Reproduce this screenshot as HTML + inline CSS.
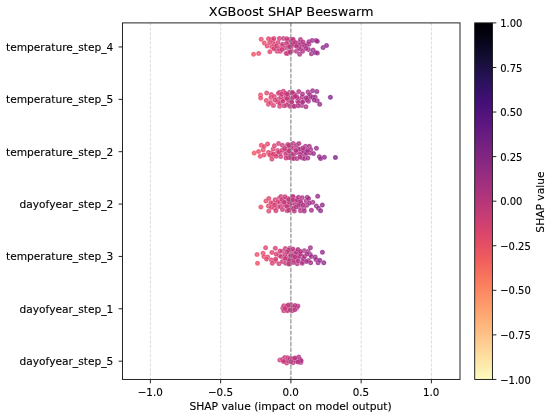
<!DOCTYPE html>
<html><head><meta charset="utf-8"><title>XGBoost SHAP Beeswarm</title>
<style>html,body{margin:0;padding:0;background:#fff;overflow:hidden}svg{display:block}text{stroke:#000;stroke-width:0.12px}.d{fill-opacity:.72;stroke:#fff;stroke-width:.36;stroke-opacity:.75}.e{fill:none;stroke-width:1;stroke-opacity:.5}</style></head>
<body>
<svg width="550" height="418" viewBox="0 0 550 418" font-family="'DejaVu Sans', 'Liberation Sans', sans-serif" fill="#000">
<rect width="550" height="418" fill="#fff"/>
<defs><linearGradient id="cb" x1="0" y1="0" x2="0" y2="1"><stop offset="0.0000" stop-color="#000004"/><stop offset="0.0312" stop-color="#03030f"/><stop offset="0.0625" stop-color="#090720"/><stop offset="0.0938" stop-color="#120d31"/><stop offset="0.1250" stop-color="#1c1044"/><stop offset="0.1562" stop-color="#271258"/><stop offset="0.1875" stop-color="#341069"/><stop offset="0.2188" stop-color="#420f75"/><stop offset="0.2500" stop-color="#4f127b"/><stop offset="0.2812" stop-color="#5c167f"/><stop offset="0.3125" stop-color="#681c81"/><stop offset="0.3438" stop-color="#752181"/><stop offset="0.3750" stop-color="#812581"/><stop offset="0.4062" stop-color="#8e2a81"/><stop offset="0.4375" stop-color="#9b2e7f"/><stop offset="0.4688" stop-color="#a8327d"/><stop offset="0.5000" stop-color="#b5367a"/><stop offset="0.5312" stop-color="#c23b75"/><stop offset="0.5625" stop-color="#cf4070"/><stop offset="0.5938" stop-color="#db476a"/><stop offset="0.6250" stop-color="#e55064"/><stop offset="0.6562" stop-color="#ee5b5e"/><stop offset="0.6875" stop-color="#f4695c"/><stop offset="0.7188" stop-color="#f9785d"/><stop offset="0.7500" stop-color="#fb8761"/><stop offset="0.7812" stop-color="#fd9668"/><stop offset="0.8125" stop-color="#fea571"/><stop offset="0.8438" stop-color="#feb47b"/><stop offset="0.8750" stop-color="#fec287"/><stop offset="0.9062" stop-color="#fed194"/><stop offset="0.9375" stop-color="#fde0a1"/><stop offset="0.9688" stop-color="#fceeb0"/><stop offset="1.0000" stop-color="#fcfdbf"/></linearGradient></defs>
<line x1="150.40" y1="22.9" x2="150.40" y2="379.45" stroke="#b0b0b0" stroke-opacity="0.5" stroke-width="0.86" stroke-dasharray="3.2 1.4"/>
<line x1="220.65" y1="22.9" x2="220.65" y2="379.45" stroke="#b0b0b0" stroke-opacity="0.5" stroke-width="0.86" stroke-dasharray="3.2 1.4"/>
<line x1="361.15" y1="22.9" x2="361.15" y2="379.45" stroke="#b0b0b0" stroke-opacity="0.5" stroke-width="0.86" stroke-dasharray="3.2 1.4"/>
<line x1="431.40" y1="22.9" x2="431.40" y2="379.45" stroke="#b0b0b0" stroke-opacity="0.5" stroke-width="0.86" stroke-dasharray="3.2 1.4"/>
<line x1="290.90" y1="22.9" x2="290.90" y2="379.45" stroke="#b0b0b0" stroke-opacity="0.5" stroke-width="0.86" stroke-dasharray="3.2 1.4"/>
<g><circle class="d" cx="308.9" cy="44.2" r="2.5" fill="#a12882"/><circle class="e" cx="308.9" cy="44.2" r="1.8" stroke="#a12882"/><circle class="d" cx="281.6" cy="45.9" r="2.5" fill="#cc3474"/><circle class="e" cx="281.6" cy="45.9" r="1.8" stroke="#cc3474"/><circle class="d" cx="290.3" cy="39.6" r="2.5" fill="#be307a"/><circle class="e" cx="290.3" cy="39.6" r="1.8" stroke="#be307a"/><circle class="d" cx="301.5" cy="48.1" r="2.5" fill="#ad2b7f"/><circle class="e" cx="301.5" cy="48.1" r="1.8" stroke="#ad2b7f"/><circle class="d" cx="295.9" cy="45.0" r="2.5" fill="#b52d7d"/><circle class="e" cx="295.9" cy="45.0" r="1.8" stroke="#b52d7d"/><circle class="d" cx="287.6" cy="40.7" r="2.5" fill="#c33177"/><circle class="e" cx="287.6" cy="40.7" r="1.8" stroke="#c33177"/><circle class="d" cx="293.3" cy="40.4" r="2.5" fill="#b92e7c"/><circle class="e" cx="293.3" cy="40.4" r="1.8" stroke="#b92e7c"/><circle class="d" cx="286.1" cy="53.2" r="2.5" fill="#c53277"/><circle class="e" cx="286.1" cy="53.2" r="1.8" stroke="#c53277"/><circle class="d" cx="301.9" cy="44.4" r="2.5" fill="#ab2a80"/><circle class="e" cx="301.9" cy="44.4" r="1.8" stroke="#ab2a80"/><circle class="d" cx="277.1" cy="51.2" r="2.5" fill="#d23770"/><circle class="e" cx="277.1" cy="51.2" r="1.8" stroke="#d23770"/><circle class="d" cx="299.6" cy="45.3" r="2.5" fill="#b02c7e"/><circle class="e" cx="299.6" cy="45.3" r="1.8" stroke="#b02c7e"/><circle class="d" cx="271.5" cy="39.4" r="2.5" fill="#da3a6c"/><circle class="e" cx="271.5" cy="39.4" r="1.8" stroke="#da3a6c"/><circle class="d" cx="291.4" cy="46.8" r="2.5" fill="#bc2f7a"/><circle class="e" cx="291.4" cy="46.8" r="1.8" stroke="#bc2f7a"/><circle class="d" cx="288.9" cy="44.8" r="2.5" fill="#c03079"/><circle class="e" cx="288.9" cy="44.8" r="1.8" stroke="#c03079"/><circle class="d" cx="274.5" cy="47.7" r="2.5" fill="#d5386f"/><circle class="e" cx="274.5" cy="47.7" r="1.8" stroke="#d5386f"/><circle class="d" cx="289.3" cy="50.2" r="2.5" fill="#c03079"/><circle class="e" cx="289.3" cy="50.2" r="1.8" stroke="#c03079"/><circle class="d" cx="306.8" cy="44.9" r="2.5" fill="#a42982"/><circle class="e" cx="306.8" cy="44.9" r="1.8" stroke="#a42982"/><circle class="d" cx="291.5" cy="51.1" r="2.5" fill="#bc2f7a"/><circle class="e" cx="291.5" cy="51.1" r="1.8" stroke="#bc2f7a"/><circle class="d" cx="253.6" cy="54.2" r="2.5" fill="#f14b5c"/><circle class="e" cx="253.6" cy="54.2" r="1.8" stroke="#f14b5c"/><circle class="d" cx="258.7" cy="53.4" r="2.5" fill="#ec4660"/><circle class="e" cx="258.7" cy="53.4" r="1.8" stroke="#ec4660"/><circle class="d" cx="261.2" cy="39.2" r="2.5" fill="#e94462"/><circle class="e" cx="261.2" cy="39.2" r="1.8" stroke="#e94462"/><circle class="d" cx="264.3" cy="43.0" r="2.5" fill="#e54065"/><circle class="e" cx="264.3" cy="43.0" r="1.8" stroke="#e54065"/><circle class="d" cx="267.1" cy="45.9" r="2.5" fill="#e03e68"/><circle class="e" cx="267.1" cy="45.9" r="1.8" stroke="#e03e68"/><circle class="d" cx="268.5" cy="38.8" r="2.5" fill="#df3d69"/><circle class="e" cx="268.5" cy="38.8" r="1.8" stroke="#df3d69"/><circle class="d" cx="269.9" cy="51.7" r="2.5" fill="#dd3c6a"/><circle class="e" cx="269.9" cy="51.7" r="1.8" stroke="#dd3c6a"/><circle class="d" cx="271.8" cy="46.7" r="2.5" fill="#da3a6c"/><circle class="e" cx="271.8" cy="46.7" r="1.8" stroke="#da3a6c"/><circle class="d" cx="273.1" cy="40.5" r="2.5" fill="#d9396d"/><circle class="e" cx="273.1" cy="40.5" r="1.8" stroke="#d9396d"/><circle class="d" cx="273.9" cy="38.4" r="2.5" fill="#d7396e"/><circle class="e" cx="273.9" cy="38.4" r="1.8" stroke="#d7396e"/><circle class="d" cx="274.3" cy="44.2" r="2.5" fill="#d7396e"/><circle class="e" cx="274.3" cy="44.2" r="1.8" stroke="#d7396e"/><circle class="d" cx="273.9" cy="48.8" r="2.5" fill="#d7396e"/><circle class="e" cx="273.9" cy="48.8" r="1.8" stroke="#d7396e"/><circle class="d" cx="278.1" cy="42.5" r="2.5" fill="#d13671"/><circle class="e" cx="278.1" cy="42.5" r="1.8" stroke="#d13671"/><circle class="d" cx="279.4" cy="38.4" r="2.5" fill="#cf3572"/><circle class="e" cx="279.4" cy="38.4" r="1.8" stroke="#cf3572"/><circle class="d" cx="280.2" cy="51.3" r="2.5" fill="#cd3573"/><circle class="e" cx="280.2" cy="51.3" r="1.8" stroke="#cd3573"/><circle class="d" cx="278.9" cy="48.8" r="2.5" fill="#cf3572"/><circle class="e" cx="278.9" cy="48.8" r="1.8" stroke="#cf3572"/><circle class="d" cx="282.7" cy="44.2" r="2.5" fill="#ca3374"/><circle class="e" cx="282.7" cy="44.2" r="1.8" stroke="#ca3374"/><circle class="d" cx="283.5" cy="38.4" r="2.5" fill="#c83375"/><circle class="e" cx="283.5" cy="38.4" r="1.8" stroke="#c83375"/><circle class="d" cx="284.8" cy="48.0" r="2.5" fill="#c63276"/><circle class="e" cx="284.8" cy="48.0" r="1.8" stroke="#c63276"/><circle class="d" cx="286.9" cy="38.8" r="2.5" fill="#c33177"/><circle class="e" cx="286.9" cy="38.8" r="1.8" stroke="#c33177"/><circle class="d" cx="286.5" cy="43.4" r="2.5" fill="#c53277"/><circle class="e" cx="286.5" cy="43.4" r="1.8" stroke="#c53277"/><circle class="d" cx="287.3" cy="53.4" r="2.5" fill="#c33177"/><circle class="e" cx="287.3" cy="53.4" r="1.8" stroke="#c33177"/><circle class="d" cx="288.6" cy="46.7" r="2.5" fill="#c13178"/><circle class="e" cx="288.6" cy="46.7" r="1.8" stroke="#c13178"/><circle class="d" cx="290.2" cy="51.7" r="2.5" fill="#be307a"/><circle class="e" cx="290.2" cy="51.7" r="1.8" stroke="#be307a"/><circle class="d" cx="291.5" cy="40.9" r="2.5" fill="#bc2f7a"/><circle class="e" cx="291.5" cy="40.9" r="1.8" stroke="#bc2f7a"/><circle class="d" cx="292.3" cy="45.0" r="2.5" fill="#bb2f7b"/><circle class="e" cx="292.3" cy="45.0" r="1.8" stroke="#bb2f7b"/><circle class="d" cx="293.0" cy="39.2" r="2.5" fill="#bb2f7b"/><circle class="e" cx="293.0" cy="39.2" r="1.8" stroke="#bb2f7b"/><circle class="d" cx="292.6" cy="43.8" r="2.5" fill="#bb2f7b"/><circle class="e" cx="292.6" cy="43.8" r="1.8" stroke="#bb2f7b"/><circle class="d" cx="289.7" cy="46.7" r="2.5" fill="#c03079"/><circle class="e" cx="289.7" cy="46.7" r="1.8" stroke="#c03079"/><circle class="d" cx="290.1" cy="52.2" r="2.5" fill="#be307a"/><circle class="e" cx="290.1" cy="52.2" r="1.8" stroke="#be307a"/><circle class="d" cx="296.4" cy="51.3" r="2.5" fill="#b42d7d"/><circle class="e" cx="296.4" cy="51.3" r="1.8" stroke="#b42d7d"/><circle class="d" cx="299.7" cy="54.2" r="2.5" fill="#af2b7f"/><circle class="e" cx="299.7" cy="54.2" r="1.8" stroke="#af2b7f"/><circle class="d" cx="298.9" cy="42.5" r="2.5" fill="#b02c7e"/><circle class="e" cx="298.9" cy="42.5" r="1.8" stroke="#b02c7e"/><circle class="d" cx="300.5" cy="39.6" r="2.5" fill="#af2b7f"/><circle class="e" cx="300.5" cy="39.6" r="1.8" stroke="#af2b7f"/><circle class="d" cx="299.3" cy="48.8" r="2.5" fill="#b02c7e"/><circle class="e" cx="299.3" cy="48.8" r="1.8" stroke="#b02c7e"/><circle class="d" cx="302.6" cy="51.3" r="2.5" fill="#ab2a80"/><circle class="e" cx="302.6" cy="51.3" r="1.8" stroke="#ab2a80"/><circle class="d" cx="304.7" cy="45.5" r="2.5" fill="#a82a81"/><circle class="e" cx="304.7" cy="45.5" r="1.8" stroke="#a82a81"/><circle class="d" cx="308.5" cy="49.6" r="2.5" fill="#a12882"/><circle class="e" cx="308.5" cy="49.6" r="1.8" stroke="#a12882"/><circle class="d" cx="308.9" cy="41.7" r="2.5" fill="#a12882"/><circle class="e" cx="308.9" cy="41.7" r="1.8" stroke="#a12882"/><circle class="d" cx="312.2" cy="40.5" r="2.5" fill="#9c2684"/><circle class="e" cx="312.2" cy="40.5" r="1.8" stroke="#9c2684"/><circle class="d" cx="316.0" cy="40.5" r="2.5" fill="#972584"/><circle class="e" cx="316.0" cy="40.5" r="1.8" stroke="#972584"/><circle class="d" cx="317.3" cy="41.3" r="2.5" fill="#942485"/><circle class="e" cx="317.3" cy="41.3" r="1.8" stroke="#942485"/><circle class="d" cx="311.4" cy="53.8" r="2.5" fill="#9e2783"/><circle class="e" cx="311.4" cy="53.8" r="1.8" stroke="#9e2783"/><circle class="d" cx="313.1" cy="50.1" r="2.5" fill="#9a2684"/><circle class="e" cx="313.1" cy="50.1" r="1.8" stroke="#9a2684"/><circle class="d" cx="315.2" cy="52.6" r="2.5" fill="#972584"/><circle class="e" cx="315.2" cy="52.6" r="1.8" stroke="#972584"/><circle class="d" cx="317.3" cy="53.0" r="2.5" fill="#942485"/><circle class="e" cx="317.3" cy="53.0" r="1.8" stroke="#942485"/><circle class="d" cx="323.1" cy="47.6" r="2.5" fill="#8b2286"/><circle class="e" cx="323.1" cy="47.6" r="1.8" stroke="#8b2286"/><circle class="d" cx="326.5" cy="45.5" r="2.5" fill="#862087"/><circle class="e" cx="326.5" cy="45.5" r="1.8" stroke="#862087"/><circle class="d" cx="295.2" cy="42.4" r="2.5" fill="#b72e7c"/><circle class="e" cx="295.2" cy="42.4" r="1.8" stroke="#b72e7c"/><circle class="d" cx="296.5" cy="46.2" r="2.5" fill="#b42d7d"/><circle class="e" cx="296.5" cy="46.2" r="1.8" stroke="#b42d7d"/><circle class="d" cx="269.8" cy="42.6" r="2.5" fill="#dd3c6a"/><circle class="e" cx="269.8" cy="42.6" r="1.8" stroke="#dd3c6a"/><circle class="d" cx="276.5" cy="46.0" r="2.5" fill="#d4376f"/><circle class="e" cx="276.5" cy="46.0" r="1.8" stroke="#d4376f"/><circle class="d" cx="282.0" cy="49.5" r="2.5" fill="#cc3474"/><circle class="e" cx="282.0" cy="49.5" r="1.8" stroke="#cc3474"/><circle class="d" cx="303.0" cy="42.0" r="2.5" fill="#aa2a80"/><circle class="e" cx="303.0" cy="42.0" r="1.8" stroke="#aa2a80"/><circle class="d" cx="306.0" cy="48.5" r="2.5" fill="#a62981"/><circle class="e" cx="306.0" cy="48.5" r="1.8" stroke="#a62981"/><circle class="d" cx="308.2" cy="98.1" r="2.5" fill="#a32882"/><circle class="e" cx="308.2" cy="98.1" r="1.8" stroke="#a32882"/><circle class="d" cx="289.5" cy="92.4" r="2.5" fill="#c03079"/><circle class="e" cx="289.5" cy="92.4" r="1.8" stroke="#c03079"/><circle class="d" cx="296.2" cy="95.5" r="2.5" fill="#b52d7d"/><circle class="e" cx="296.2" cy="95.5" r="1.8" stroke="#b52d7d"/><circle class="d" cx="288.3" cy="103.5" r="2.5" fill="#c13178"/><circle class="e" cx="288.3" cy="103.5" r="1.8" stroke="#c13178"/><circle class="d" cx="308.4" cy="101.2" r="2.5" fill="#a32882"/><circle class="e" cx="308.4" cy="101.2" r="1.8" stroke="#a32882"/><circle class="d" cx="297.7" cy="101.3" r="2.5" fill="#b22c7e"/><circle class="e" cx="297.7" cy="101.3" r="1.8" stroke="#b22c7e"/><circle class="d" cx="291.5" cy="98.5" r="2.5" fill="#bc2f7a"/><circle class="e" cx="291.5" cy="98.5" r="1.8" stroke="#bc2f7a"/><circle class="d" cx="284.2" cy="98.6" r="2.5" fill="#c83375"/><circle class="e" cx="284.2" cy="98.6" r="1.8" stroke="#c83375"/><circle class="d" cx="287.9" cy="97.1" r="2.5" fill="#c13178"/><circle class="e" cx="287.9" cy="97.1" r="1.8" stroke="#c13178"/><circle class="d" cx="282.1" cy="100.2" r="2.5" fill="#cc3474"/><circle class="e" cx="282.1" cy="100.2" r="1.8" stroke="#cc3474"/><circle class="d" cx="310.5" cy="97.2" r="2.5" fill="#9f2783"/><circle class="e" cx="310.5" cy="97.2" r="1.8" stroke="#9f2783"/><circle class="d" cx="288.4" cy="99.9" r="2.5" fill="#c13178"/><circle class="e" cx="288.4" cy="99.9" r="1.8" stroke="#c13178"/><circle class="d" cx="303.2" cy="100.9" r="2.5" fill="#aa2a80"/><circle class="e" cx="303.2" cy="100.9" r="1.8" stroke="#aa2a80"/><circle class="d" cx="278.0" cy="99.5" r="2.5" fill="#d13671"/><circle class="e" cx="278.0" cy="99.5" r="1.8" stroke="#d13671"/><circle class="d" cx="298.6" cy="99.3" r="2.5" fill="#b02c7e"/><circle class="e" cx="298.6" cy="99.3" r="1.8" stroke="#b02c7e"/><circle class="d" cx="279.8" cy="92.2" r="2.5" fill="#cf3572"/><circle class="e" cx="279.8" cy="92.2" r="1.8" stroke="#cf3572"/><circle class="d" cx="292.6" cy="94.0" r="2.5" fill="#bb2f7b"/><circle class="e" cx="292.6" cy="94.0" r="1.8" stroke="#bb2f7b"/><circle class="d" cx="285.8" cy="94.8" r="2.5" fill="#c53277"/><circle class="e" cx="285.8" cy="94.8" r="1.8" stroke="#c53277"/><circle class="d" cx="260.5" cy="95.0" r="2.5" fill="#e94462"/><circle class="e" cx="260.5" cy="95.0" r="1.8" stroke="#e94462"/><circle class="d" cx="260.7" cy="97.9" r="2.5" fill="#e94462"/><circle class="e" cx="260.7" cy="97.9" r="1.8" stroke="#e94462"/><circle class="d" cx="266.7" cy="92.9" r="2.5" fill="#e23f67"/><circle class="e" cx="266.7" cy="92.9" r="1.8" stroke="#e23f67"/><circle class="d" cx="266.3" cy="100.4" r="2.5" fill="#e23f67"/><circle class="e" cx="266.3" cy="100.4" r="1.8" stroke="#e23f67"/><circle class="d" cx="268.4" cy="104.2" r="2.5" fill="#df3d69"/><circle class="e" cx="268.4" cy="104.2" r="1.8" stroke="#df3d69"/><circle class="d" cx="270.5" cy="102.5" r="2.5" fill="#dc3b6b"/><circle class="e" cx="270.5" cy="102.5" r="1.8" stroke="#dc3b6b"/><circle class="d" cx="271.3" cy="94.5" r="2.5" fill="#da3a6c"/><circle class="e" cx="271.3" cy="94.5" r="1.8" stroke="#da3a6c"/><circle class="d" cx="270.9" cy="97.5" r="2.5" fill="#dc3b6b"/><circle class="e" cx="270.9" cy="97.5" r="1.8" stroke="#dc3b6b"/><circle class="d" cx="273.4" cy="105.4" r="2.5" fill="#d7396e"/><circle class="e" cx="273.4" cy="105.4" r="1.8" stroke="#d7396e"/><circle class="d" cx="274.2" cy="96.6" r="2.5" fill="#d7396e"/><circle class="e" cx="274.2" cy="96.6" r="1.8" stroke="#d7396e"/><circle class="d" cx="277.6" cy="102.1" r="2.5" fill="#d23770"/><circle class="e" cx="277.6" cy="102.1" r="1.8" stroke="#d23770"/><circle class="d" cx="278.4" cy="93.3" r="2.5" fill="#d13671"/><circle class="e" cx="278.4" cy="93.3" r="1.8" stroke="#d13671"/><circle class="d" cx="279.7" cy="106.2" r="2.5" fill="#cf3572"/><circle class="e" cx="279.7" cy="106.2" r="1.8" stroke="#cf3572"/><circle class="d" cx="280.1" cy="103.3" r="2.5" fill="#cd3573"/><circle class="e" cx="280.1" cy="103.3" r="1.8" stroke="#cd3573"/><circle class="d" cx="280.9" cy="97.1" r="2.5" fill="#cd3573"/><circle class="e" cx="280.9" cy="97.1" r="1.8" stroke="#cd3573"/><circle class="d" cx="283.4" cy="91.2" r="2.5" fill="#c83375"/><circle class="e" cx="283.4" cy="91.2" r="1.8" stroke="#c83375"/><circle class="d" cx="283.0" cy="101.2" r="2.5" fill="#ca3374"/><circle class="e" cx="283.0" cy="101.2" r="1.8" stroke="#ca3374"/><circle class="d" cx="285.5" cy="93.3" r="2.5" fill="#c53277"/><circle class="e" cx="285.5" cy="93.3" r="1.8" stroke="#c53277"/><circle class="d" cx="286.8" cy="98.3" r="2.5" fill="#c33177"/><circle class="e" cx="286.8" cy="98.3" r="1.8" stroke="#c33177"/><circle class="d" cx="286.8" cy="105.0" r="2.5" fill="#c33177"/><circle class="e" cx="286.8" cy="105.0" r="1.8" stroke="#c33177"/><circle class="d" cx="284.3" cy="105.8" r="2.5" fill="#c83375"/><circle class="e" cx="284.3" cy="105.8" r="1.8" stroke="#c83375"/><circle class="d" cx="290.1" cy="106.2" r="2.5" fill="#be307a"/><circle class="e" cx="290.1" cy="106.2" r="1.8" stroke="#be307a"/><circle class="d" cx="291.8" cy="92.9" r="2.5" fill="#bc2f7a"/><circle class="e" cx="291.8" cy="92.9" r="1.8" stroke="#bc2f7a"/><circle class="d" cx="292.6" cy="97.9" r="2.5" fill="#bb2f7b"/><circle class="e" cx="292.6" cy="97.9" r="1.8" stroke="#bb2f7b"/><circle class="d" cx="291.8" cy="102.1" r="2.5" fill="#bc2f7a"/><circle class="e" cx="291.8" cy="102.1" r="1.8" stroke="#bc2f7a"/><circle class="d" cx="294.7" cy="94.5" r="2.5" fill="#b72e7c"/><circle class="e" cx="294.7" cy="94.5" r="1.8" stroke="#b72e7c"/><circle class="d" cx="294.3" cy="106.2" r="2.5" fill="#b72e7c"/><circle class="e" cx="294.3" cy="106.2" r="1.8" stroke="#b72e7c"/><circle class="d" cx="292.5" cy="92.5" r="2.5" fill="#bb2f7b"/><circle class="e" cx="292.5" cy="92.5" r="1.8" stroke="#bb2f7b"/><circle class="d" cx="291.7" cy="102.1" r="2.5" fill="#bc2f7a"/><circle class="e" cx="291.7" cy="102.1" r="1.8" stroke="#bc2f7a"/><circle class="d" cx="294.2" cy="106.2" r="2.5" fill="#b72e7c"/><circle class="e" cx="294.2" cy="106.2" r="1.8" stroke="#b72e7c"/><circle class="d" cx="297.1" cy="97.5" r="2.5" fill="#b42d7d"/><circle class="e" cx="297.1" cy="97.5" r="1.8" stroke="#b42d7d"/><circle class="d" cx="298.8" cy="91.6" r="2.5" fill="#b02c7e"/><circle class="e" cx="298.8" cy="91.6" r="1.8" stroke="#b02c7e"/><circle class="d" cx="298.4" cy="102.5" r="2.5" fill="#b22c7e"/><circle class="e" cx="298.4" cy="102.5" r="1.8" stroke="#b22c7e"/><circle class="d" cx="302.1" cy="97.1" r="2.5" fill="#ab2a80"/><circle class="e" cx="302.1" cy="97.1" r="1.8" stroke="#ab2a80"/><circle class="d" cx="302.5" cy="94.1" r="2.5" fill="#ab2a80"/><circle class="e" cx="302.5" cy="94.1" r="1.8" stroke="#ab2a80"/><circle class="d" cx="301.7" cy="105.4" r="2.5" fill="#ad2b7f"/><circle class="e" cx="301.7" cy="105.4" r="1.8" stroke="#ad2b7f"/><circle class="d" cx="305.9" cy="106.7" r="2.5" fill="#a62981"/><circle class="e" cx="305.9" cy="106.7" r="1.8" stroke="#a62981"/><circle class="d" cx="307.1" cy="100.0" r="2.5" fill="#a42982"/><circle class="e" cx="307.1" cy="100.0" r="1.8" stroke="#a42982"/><circle class="d" cx="308.0" cy="92.0" r="2.5" fill="#a32882"/><circle class="e" cx="308.0" cy="92.0" r="1.8" stroke="#a32882"/><circle class="d" cx="309.6" cy="94.5" r="2.5" fill="#9f2783"/><circle class="e" cx="309.6" cy="94.5" r="1.8" stroke="#9f2783"/><circle class="d" cx="312.6" cy="90.8" r="2.5" fill="#9c2684"/><circle class="e" cx="312.6" cy="90.8" r="1.8" stroke="#9c2684"/><circle class="d" cx="312.6" cy="97.1" r="2.5" fill="#9c2684"/><circle class="e" cx="312.6" cy="97.1" r="1.8" stroke="#9c2684"/><circle class="d" cx="315.1" cy="97.1" r="2.5" fill="#972584"/><circle class="e" cx="315.1" cy="97.1" r="1.8" stroke="#972584"/><circle class="d" cx="316.8" cy="91.6" r="2.5" fill="#952485"/><circle class="e" cx="316.8" cy="91.6" r="1.8" stroke="#952485"/><circle class="d" cx="317.2" cy="100.8" r="2.5" fill="#952485"/><circle class="e" cx="317.2" cy="100.8" r="1.8" stroke="#952485"/><circle class="d" cx="319.7" cy="104.2" r="2.5" fill="#902386"/><circle class="e" cx="319.7" cy="104.2" r="1.8" stroke="#902386"/><circle class="d" cx="330.4" cy="97.3" r="2.5" fill="#811e87"/><circle class="e" cx="330.4" cy="97.3" r="1.8" stroke="#811e87"/><circle class="d" cx="298.2" cy="105.8" r="2.5" fill="#b22c7e"/><circle class="e" cx="298.2" cy="105.8" r="1.8" stroke="#b22c7e"/><circle class="d" cx="302.5" cy="102.2" r="2.5" fill="#ab2a80"/><circle class="e" cx="302.5" cy="102.2" r="1.8" stroke="#ab2a80"/><circle class="d" cx="306.2" cy="97.8" r="2.5" fill="#a62981"/><circle class="e" cx="306.2" cy="97.8" r="1.8" stroke="#a62981"/><circle class="d" cx="295.3" cy="96.4" r="2.5" fill="#b52d7d"/><circle class="e" cx="295.3" cy="96.4" r="1.8" stroke="#b52d7d"/><circle class="d" cx="274.9" cy="100.0" r="2.5" fill="#d5386f"/><circle class="e" cx="274.9" cy="100.0" r="1.8" stroke="#d5386f"/><circle class="d" cx="281.5" cy="94.2" r="2.5" fill="#cc3474"/><circle class="e" cx="281.5" cy="94.2" r="1.8" stroke="#cc3474"/><circle class="d" cx="287.3" cy="94.2" r="2.5" fill="#c33177"/><circle class="e" cx="287.3" cy="94.2" r="1.8" stroke="#c33177"/><circle class="d" cx="314.2" cy="100.0" r="2.5" fill="#992584"/><circle class="e" cx="314.2" cy="100.0" r="1.8" stroke="#992584"/><circle class="d" cx="287.3" cy="148.7" r="2.5" fill="#c33177"/><circle class="e" cx="287.3" cy="148.7" r="1.8" stroke="#c33177"/><circle class="d" cx="287.2" cy="146.2" r="2.5" fill="#c33177"/><circle class="e" cx="287.2" cy="146.2" r="1.8" stroke="#c33177"/><circle class="d" cx="290.5" cy="145.3" r="2.5" fill="#be307a"/><circle class="e" cx="290.5" cy="145.3" r="1.8" stroke="#be307a"/><circle class="d" cx="288.2" cy="154.2" r="2.5" fill="#c13178"/><circle class="e" cx="288.2" cy="154.2" r="1.8" stroke="#c13178"/><circle class="d" cx="302.3" cy="157.9" r="2.5" fill="#ab2a80"/><circle class="e" cx="302.3" cy="157.9" r="1.8" stroke="#ab2a80"/><circle class="d" cx="280.1" cy="153.2" r="2.5" fill="#cd3573"/><circle class="e" cx="280.1" cy="153.2" r="1.8" stroke="#cd3573"/><circle class="d" cx="275.8" cy="154.1" r="2.5" fill="#d4376f"/><circle class="e" cx="275.8" cy="154.1" r="1.8" stroke="#d4376f"/><circle class="d" cx="293.6" cy="156.1" r="2.5" fill="#b92e7c"/><circle class="e" cx="293.6" cy="156.1" r="1.8" stroke="#b92e7c"/><circle class="d" cx="300.7" cy="152.2" r="2.5" fill="#af2b7f"/><circle class="e" cx="300.7" cy="152.2" r="1.8" stroke="#af2b7f"/><circle class="d" cx="271.8" cy="155.4" r="2.5" fill="#da3a6c"/><circle class="e" cx="271.8" cy="155.4" r="1.8" stroke="#da3a6c"/><circle class="d" cx="285.4" cy="151.1" r="2.5" fill="#c63276"/><circle class="e" cx="285.4" cy="151.1" r="1.8" stroke="#c63276"/><circle class="d" cx="277.8" cy="150.6" r="2.5" fill="#d13671"/><circle class="e" cx="277.8" cy="150.6" r="1.8" stroke="#d13671"/><circle class="d" cx="292.3" cy="158.0" r="2.5" fill="#bb2f7b"/><circle class="e" cx="292.3" cy="158.0" r="1.8" stroke="#bb2f7b"/><circle class="d" cx="297.8" cy="149.0" r="2.5" fill="#b22c7e"/><circle class="e" cx="297.8" cy="149.0" r="1.8" stroke="#b22c7e"/><circle class="d" cx="304.5" cy="149.6" r="2.5" fill="#a82a81"/><circle class="e" cx="304.5" cy="149.6" r="1.8" stroke="#a82a81"/><circle class="d" cx="304.0" cy="154.6" r="2.5" fill="#aa2a80"/><circle class="e" cx="304.0" cy="154.6" r="1.8" stroke="#aa2a80"/><circle class="d" cx="270.9" cy="153.1" r="2.5" fill="#dc3b6b"/><circle class="e" cx="270.9" cy="153.1" r="1.8" stroke="#dc3b6b"/><circle class="d" cx="306.4" cy="151.9" r="2.5" fill="#a42982"/><circle class="e" cx="306.4" cy="151.9" r="1.8" stroke="#a42982"/><circle class="d" cx="254.2" cy="153.1" r="2.5" fill="#f14b5c"/><circle class="e" cx="254.2" cy="153.1" r="1.8" stroke="#f14b5c"/><circle class="d" cx="258.5" cy="151.6" r="2.5" fill="#ec4660"/><circle class="e" cx="258.5" cy="151.6" r="1.8" stroke="#ec4660"/><circle class="d" cx="260.2" cy="156.2" r="2.5" fill="#e94462"/><circle class="e" cx="260.2" cy="156.2" r="1.8" stroke="#e94462"/><circle class="d" cx="261.3" cy="145.3" r="2.5" fill="#e84363"/><circle class="e" cx="261.3" cy="145.3" r="1.8" stroke="#e84363"/><circle class="d" cx="263.1" cy="149.9" r="2.5" fill="#e64264"/><circle class="e" cx="263.1" cy="149.9" r="1.8" stroke="#e64264"/><circle class="d" cx="264.0" cy="146.5" r="2.5" fill="#e54065"/><circle class="e" cx="264.0" cy="146.5" r="1.8" stroke="#e54065"/><circle class="d" cx="264.0" cy="154.9" r="2.5" fill="#e54065"/><circle class="e" cx="264.0" cy="154.9" r="1.8" stroke="#e54065"/><circle class="d" cx="267.6" cy="144.0" r="2.5" fill="#e03e68"/><circle class="e" cx="267.6" cy="144.0" r="1.8" stroke="#e03e68"/><circle class="d" cx="268.4" cy="152.4" r="2.5" fill="#df3d69"/><circle class="e" cx="268.4" cy="152.4" r="1.8" stroke="#df3d69"/><circle class="d" cx="269.8" cy="154.9" r="2.5" fill="#dd3c6a"/><circle class="e" cx="269.8" cy="154.9" r="1.8" stroke="#dd3c6a"/><circle class="d" cx="271.9" cy="159.1" r="2.5" fill="#da3a6c"/><circle class="e" cx="271.9" cy="159.1" r="1.8" stroke="#da3a6c"/><circle class="d" cx="273.2" cy="149.1" r="2.5" fill="#d9396d"/><circle class="e" cx="273.2" cy="149.1" r="1.8" stroke="#d9396d"/><circle class="d" cx="273.2" cy="154.1" r="2.5" fill="#d9396d"/><circle class="e" cx="273.2" cy="154.1" r="1.8" stroke="#d9396d"/><circle class="d" cx="274.4" cy="145.7" r="2.5" fill="#d7396e"/><circle class="e" cx="274.4" cy="145.7" r="1.8" stroke="#d7396e"/><circle class="d" cx="276.1" cy="156.2" r="2.5" fill="#d4376f"/><circle class="e" cx="276.1" cy="156.2" r="1.8" stroke="#d4376f"/><circle class="d" cx="278.6" cy="143.6" r="2.5" fill="#d13671"/><circle class="e" cx="278.6" cy="143.6" r="1.8" stroke="#d13671"/><circle class="d" cx="279.0" cy="152.0" r="2.5" fill="#cf3572"/><circle class="e" cx="279.0" cy="152.0" r="1.8" stroke="#cf3572"/><circle class="d" cx="280.7" cy="156.6" r="2.5" fill="#cd3573"/><circle class="e" cx="280.7" cy="156.6" r="1.8" stroke="#cd3573"/><circle class="d" cx="282.4" cy="145.3" r="2.5" fill="#ca3374"/><circle class="e" cx="282.4" cy="145.3" r="1.8" stroke="#ca3374"/><circle class="d" cx="282.0" cy="150.3" r="2.5" fill="#cc3474"/><circle class="e" cx="282.0" cy="150.3" r="1.8" stroke="#cc3474"/><circle class="d" cx="285.7" cy="154.1" r="2.5" fill="#c53277"/><circle class="e" cx="285.7" cy="154.1" r="1.8" stroke="#c53277"/><circle class="d" cx="287.8" cy="144.5" r="2.5" fill="#c13178"/><circle class="e" cx="287.8" cy="144.5" r="1.8" stroke="#c13178"/><circle class="d" cx="288.2" cy="151.1" r="2.5" fill="#c13178"/><circle class="e" cx="288.2" cy="151.1" r="1.8" stroke="#c13178"/><circle class="d" cx="288.6" cy="157.4" r="2.5" fill="#c13178"/><circle class="e" cx="288.6" cy="157.4" r="1.8" stroke="#c13178"/><circle class="d" cx="290.3" cy="147.4" r="2.5" fill="#be307a"/><circle class="e" cx="290.3" cy="147.4" r="1.8" stroke="#be307a"/><circle class="d" cx="290.7" cy="154.1" r="2.5" fill="#be307a"/><circle class="e" cx="290.7" cy="154.1" r="1.8" stroke="#be307a"/><circle class="d" cx="288.9" cy="145.3" r="2.5" fill="#c03079"/><circle class="e" cx="288.9" cy="145.3" r="1.8" stroke="#c03079"/><circle class="d" cx="289.4" cy="151.0" r="2.5" fill="#c03079"/><circle class="e" cx="289.4" cy="151.0" r="1.8" stroke="#c03079"/><circle class="d" cx="289.4" cy="157.6" r="2.5" fill="#c03079"/><circle class="e" cx="289.4" cy="157.6" r="1.8" stroke="#c03079"/><circle class="d" cx="293.2" cy="143.5" r="2.5" fill="#b92e7c"/><circle class="e" cx="293.2" cy="143.5" r="1.8" stroke="#b92e7c"/><circle class="d" cx="293.7" cy="148.2" r="2.5" fill="#b92e7c"/><circle class="e" cx="293.7" cy="148.2" r="1.8" stroke="#b92e7c"/><circle class="d" cx="293.2" cy="153.8" r="2.5" fill="#b92e7c"/><circle class="e" cx="293.2" cy="153.8" r="1.8" stroke="#b92e7c"/><circle class="d" cx="293.7" cy="158.6" r="2.5" fill="#b92e7c"/><circle class="e" cx="293.7" cy="158.6" r="1.8" stroke="#b92e7c"/><circle class="d" cx="296.5" cy="145.3" r="2.5" fill="#b42d7d"/><circle class="e" cx="296.5" cy="145.3" r="1.8" stroke="#b42d7d"/><circle class="d" cx="297.0" cy="158.6" r="2.5" fill="#b42d7d"/><circle class="e" cx="297.0" cy="158.6" r="1.8" stroke="#b42d7d"/><circle class="d" cx="298.9" cy="143.5" r="2.5" fill="#b02c7e"/><circle class="e" cx="298.9" cy="143.5" r="1.8" stroke="#b02c7e"/><circle class="d" cx="299.8" cy="149.1" r="2.5" fill="#af2b7f"/><circle class="e" cx="299.8" cy="149.1" r="1.8" stroke="#af2b7f"/><circle class="d" cx="300.3" cy="154.3" r="2.5" fill="#af2b7f"/><circle class="e" cx="300.3" cy="154.3" r="1.8" stroke="#af2b7f"/><circle class="d" cx="303.6" cy="151.0" r="2.5" fill="#aa2a80"/><circle class="e" cx="303.6" cy="151.0" r="1.8" stroke="#aa2a80"/><circle class="d" cx="304.5" cy="158.6" r="2.5" fill="#a82a81"/><circle class="e" cx="304.5" cy="158.6" r="1.8" stroke="#a82a81"/><circle class="d" cx="305.5" cy="146.3" r="2.5" fill="#a62981"/><circle class="e" cx="305.5" cy="146.3" r="1.8" stroke="#a62981"/><circle class="d" cx="306.4" cy="153.4" r="2.5" fill="#a42982"/><circle class="e" cx="306.4" cy="153.4" r="1.8" stroke="#a42982"/><circle class="d" cx="307.8" cy="158.1" r="2.5" fill="#a32882"/><circle class="e" cx="307.8" cy="158.1" r="1.8" stroke="#a32882"/><circle class="d" cx="309.3" cy="146.3" r="2.5" fill="#a12882"/><circle class="e" cx="309.3" cy="146.3" r="1.8" stroke="#a12882"/><circle class="d" cx="310.7" cy="149.6" r="2.5" fill="#9e2783"/><circle class="e" cx="310.7" cy="149.6" r="1.8" stroke="#9e2783"/><circle class="d" cx="310.2" cy="152.9" r="2.5" fill="#9f2783"/><circle class="e" cx="310.2" cy="152.9" r="1.8" stroke="#9f2783"/><circle class="d" cx="316.4" cy="148.2" r="2.5" fill="#952485"/><circle class="e" cx="316.4" cy="148.2" r="1.8" stroke="#952485"/><circle class="d" cx="319.4" cy="156.7" r="2.5" fill="#922485"/><circle class="e" cx="319.4" cy="156.7" r="1.8" stroke="#922485"/><circle class="d" cx="320.6" cy="158.6" r="2.5" fill="#8f2386"/><circle class="e" cx="320.6" cy="158.6" r="1.8" stroke="#8f2386"/><circle class="d" cx="324.4" cy="157.2" r="2.5" fill="#8a2186"/><circle class="e" cx="324.4" cy="157.2" r="1.8" stroke="#8a2186"/><circle class="d" cx="335.4" cy="157.4" r="2.5" fill="#781b87"/><circle class="e" cx="335.4" cy="157.4" r="1.8" stroke="#781b87"/><circle class="d" cx="296.5" cy="152.5" r="2.5" fill="#b42d7d"/><circle class="e" cx="296.5" cy="152.5" r="1.8" stroke="#b42d7d"/><circle class="d" cx="300.0" cy="157.0" r="2.5" fill="#af2b7f"/><circle class="e" cx="300.0" cy="157.0" r="1.8" stroke="#af2b7f"/><circle class="d" cx="303.0" cy="148.0" r="2.5" fill="#aa2a80"/><circle class="e" cx="303.0" cy="148.0" r="1.8" stroke="#aa2a80"/><circle class="d" cx="284.5" cy="148.5" r="2.5" fill="#c63276"/><circle class="e" cx="284.5" cy="148.5" r="1.8" stroke="#c63276"/><circle class="d" cx="296.0" cy="150.5" r="2.5" fill="#b52d7d"/><circle class="e" cx="296.0" cy="150.5" r="1.8" stroke="#b52d7d"/><circle class="d" cx="307.5" cy="150.5" r="2.5" fill="#a32882"/><circle class="e" cx="307.5" cy="150.5" r="1.8" stroke="#a32882"/><circle class="d" cx="313.5" cy="153.5" r="2.5" fill="#9a2684"/><circle class="e" cx="313.5" cy="153.5" r="1.8" stroke="#9a2684"/><circle class="d" cx="286.0" cy="158.0" r="2.5" fill="#c53277"/><circle class="e" cx="286.0" cy="158.0" r="1.8" stroke="#c53277"/><circle class="d" cx="287.0" cy="205.0" r="2.5" fill="#c33177"/><circle class="e" cx="287.0" cy="205.0" r="1.8" stroke="#c33177"/><circle class="d" cx="298.2" cy="201.2" r="2.5" fill="#b22c7e"/><circle class="e" cx="298.2" cy="201.2" r="1.8" stroke="#b22c7e"/><circle class="d" cx="299.4" cy="207.2" r="2.5" fill="#b02c7e"/><circle class="e" cx="299.4" cy="207.2" r="1.8" stroke="#b02c7e"/><circle class="d" cx="286.4" cy="202.3" r="2.5" fill="#c53277"/><circle class="e" cx="286.4" cy="202.3" r="1.8" stroke="#c53277"/><circle class="d" cx="273.2" cy="203.0" r="2.5" fill="#d9396d"/><circle class="e" cx="273.2" cy="203.0" r="1.8" stroke="#d9396d"/><circle class="d" cx="301.1" cy="203.5" r="2.5" fill="#ad2b7f"/><circle class="e" cx="301.1" cy="203.5" r="1.8" stroke="#ad2b7f"/><circle class="d" cx="277.9" cy="207.0" r="2.5" fill="#d13671"/><circle class="e" cx="277.9" cy="207.0" r="1.8" stroke="#d13671"/><circle class="d" cx="298.1" cy="203.7" r="2.5" fill="#b22c7e"/><circle class="e" cx="298.1" cy="203.7" r="1.8" stroke="#b22c7e"/><circle class="d" cx="288.1" cy="207.5" r="2.5" fill="#c13178"/><circle class="e" cx="288.1" cy="207.5" r="1.8" stroke="#c13178"/><circle class="d" cx="279.0" cy="198.4" r="2.5" fill="#cf3572"/><circle class="e" cx="279.0" cy="198.4" r="1.8" stroke="#cf3572"/><circle class="d" cx="285.5" cy="199.5" r="2.5" fill="#c53277"/><circle class="e" cx="285.5" cy="199.5" r="1.8" stroke="#c53277"/><circle class="d" cx="283.2" cy="201.6" r="2.5" fill="#ca3374"/><circle class="e" cx="283.2" cy="201.6" r="1.8" stroke="#ca3374"/><circle class="d" cx="284.3" cy="204.9" r="2.5" fill="#c83375"/><circle class="e" cx="284.3" cy="204.9" r="1.8" stroke="#c83375"/><circle class="d" cx="274.6" cy="208.1" r="2.5" fill="#d5386f"/><circle class="e" cx="274.6" cy="208.1" r="1.8" stroke="#d5386f"/><circle class="d" cx="289.8" cy="204.7" r="2.5" fill="#c03079"/><circle class="e" cx="289.8" cy="204.7" r="1.8" stroke="#c03079"/><circle class="d" cx="296.2" cy="198.7" r="2.5" fill="#b52d7d"/><circle class="e" cx="296.2" cy="198.7" r="1.8" stroke="#b52d7d"/><circle class="d" cx="291.6" cy="203.3" r="2.5" fill="#bc2f7a"/><circle class="e" cx="291.6" cy="203.3" r="1.8" stroke="#bc2f7a"/><circle class="d" cx="280.3" cy="201.7" r="2.5" fill="#cd3573"/><circle class="e" cx="280.3" cy="201.7" r="1.8" stroke="#cd3573"/><circle class="d" cx="260.9" cy="207.1" r="2.5" fill="#e94462"/><circle class="e" cx="260.9" cy="207.1" r="1.8" stroke="#e94462"/><circle class="d" cx="265.9" cy="201.1" r="2.5" fill="#e23f67"/><circle class="e" cx="265.9" cy="201.1" r="1.8" stroke="#e23f67"/><circle class="d" cx="268.8" cy="198.5" r="2.5" fill="#df3d69"/><circle class="e" cx="268.8" cy="198.5" r="1.8" stroke="#df3d69"/><circle class="d" cx="268.4" cy="206.1" r="2.5" fill="#df3d69"/><circle class="e" cx="268.4" cy="206.1" r="1.8" stroke="#df3d69"/><circle class="d" cx="268.8" cy="211.1" r="2.5" fill="#df3d69"/><circle class="e" cx="268.8" cy="211.1" r="1.8" stroke="#df3d69"/><circle class="d" cx="270.9" cy="202.7" r="2.5" fill="#dc3b6b"/><circle class="e" cx="270.9" cy="202.7" r="1.8" stroke="#dc3b6b"/><circle class="d" cx="271.3" cy="207.3" r="2.5" fill="#da3a6c"/><circle class="e" cx="271.3" cy="207.3" r="1.8" stroke="#da3a6c"/><circle class="d" cx="275.1" cy="199.8" r="2.5" fill="#d5386f"/><circle class="e" cx="275.1" cy="199.8" r="1.8" stroke="#d5386f"/><circle class="d" cx="275.9" cy="210.7" r="2.5" fill="#d4376f"/><circle class="e" cx="275.9" cy="210.7" r="1.8" stroke="#d4376f"/><circle class="d" cx="277.6" cy="202.3" r="2.5" fill="#d23770"/><circle class="e" cx="277.6" cy="202.3" r="1.8" stroke="#d23770"/><circle class="d" cx="280.5" cy="206.5" r="2.5" fill="#cd3573"/><circle class="e" cx="280.5" cy="206.5" r="1.8" stroke="#cd3573"/><circle class="d" cx="280.9" cy="196.5" r="2.5" fill="#cd3573"/><circle class="e" cx="280.9" cy="196.5" r="1.8" stroke="#cd3573"/><circle class="d" cx="282.2" cy="199.4" r="2.5" fill="#ca3374"/><circle class="e" cx="282.2" cy="199.4" r="1.8" stroke="#ca3374"/><circle class="d" cx="284.3" cy="202.3" r="2.5" fill="#c83375"/><circle class="e" cx="284.3" cy="202.3" r="1.8" stroke="#c83375"/><circle class="d" cx="286.8" cy="206.5" r="2.5" fill="#c33177"/><circle class="e" cx="286.8" cy="206.5" r="1.8" stroke="#c33177"/><circle class="d" cx="287.2" cy="210.7" r="2.5" fill="#c33177"/><circle class="e" cx="287.2" cy="210.7" r="1.8" stroke="#c33177"/><circle class="d" cx="288.0" cy="198.5" r="2.5" fill="#c13178"/><circle class="e" cx="288.0" cy="198.5" r="1.8" stroke="#c13178"/><circle class="d" cx="289.3" cy="201.9" r="2.5" fill="#c03079"/><circle class="e" cx="289.3" cy="201.9" r="1.8" stroke="#c03079"/><circle class="d" cx="292.6" cy="196.9" r="2.5" fill="#bb2f7b"/><circle class="e" cx="292.6" cy="196.9" r="1.8" stroke="#bb2f7b"/><circle class="d" cx="293.5" cy="200.2" r="2.5" fill="#b92e7c"/><circle class="e" cx="293.5" cy="200.2" r="1.8" stroke="#b92e7c"/><circle class="d" cx="293.1" cy="208.6" r="2.5" fill="#b92e7c"/><circle class="e" cx="293.1" cy="208.6" r="1.8" stroke="#b92e7c"/><circle class="d" cx="295.2" cy="204.4" r="2.5" fill="#b72e7c"/><circle class="e" cx="295.2" cy="204.4" r="1.8" stroke="#b72e7c"/><circle class="d" cx="288.8" cy="199.4" r="2.5" fill="#c03079"/><circle class="e" cx="288.8" cy="199.4" r="1.8" stroke="#c03079"/><circle class="d" cx="288.8" cy="210.2" r="2.5" fill="#c03079"/><circle class="e" cx="288.8" cy="210.2" r="1.8" stroke="#c03079"/><circle class="d" cx="293.0" cy="196.5" r="2.5" fill="#bb2f7b"/><circle class="e" cx="293.0" cy="196.5" r="1.8" stroke="#bb2f7b"/><circle class="d" cx="293.0" cy="199.8" r="2.5" fill="#bb2f7b"/><circle class="e" cx="293.0" cy="199.8" r="1.8" stroke="#bb2f7b"/><circle class="d" cx="293.4" cy="208.6" r="2.5" fill="#b92e7c"/><circle class="e" cx="293.4" cy="208.6" r="1.8" stroke="#b92e7c"/><circle class="d" cx="294.3" cy="211.1" r="2.5" fill="#b72e7c"/><circle class="e" cx="294.3" cy="211.1" r="1.8" stroke="#b72e7c"/><circle class="d" cx="297.2" cy="200.2" r="2.5" fill="#b42d7d"/><circle class="e" cx="297.2" cy="200.2" r="1.8" stroke="#b42d7d"/><circle class="d" cx="298.5" cy="197.3" r="2.5" fill="#b22c7e"/><circle class="e" cx="298.5" cy="197.3" r="1.8" stroke="#b22c7e"/><circle class="d" cx="298.9" cy="204.8" r="2.5" fill="#b02c7e"/><circle class="e" cx="298.9" cy="204.8" r="1.8" stroke="#b02c7e"/><circle class="d" cx="300.5" cy="210.7" r="2.5" fill="#af2b7f"/><circle class="e" cx="300.5" cy="210.7" r="1.8" stroke="#af2b7f"/><circle class="d" cx="302.2" cy="197.7" r="2.5" fill="#ab2a80"/><circle class="e" cx="302.2" cy="197.7" r="1.8" stroke="#ab2a80"/><circle class="d" cx="303.9" cy="208.2" r="2.5" fill="#aa2a80"/><circle class="e" cx="303.9" cy="208.2" r="1.8" stroke="#aa2a80"/><circle class="d" cx="304.3" cy="211.1" r="2.5" fill="#a82a81"/><circle class="e" cx="304.3" cy="211.1" r="1.8" stroke="#a82a81"/><circle class="d" cx="306.0" cy="201.1" r="2.5" fill="#a62981"/><circle class="e" cx="306.0" cy="201.1" r="1.8" stroke="#a62981"/><circle class="d" cx="306.8" cy="205.2" r="2.5" fill="#a42982"/><circle class="e" cx="306.8" cy="205.2" r="1.8" stroke="#a42982"/><circle class="d" cx="307.2" cy="197.3" r="2.5" fill="#a42982"/><circle class="e" cx="307.2" cy="197.3" r="1.8" stroke="#a42982"/><circle class="d" cx="308.5" cy="198.5" r="2.5" fill="#a12882"/><circle class="e" cx="308.5" cy="198.5" r="1.8" stroke="#a12882"/><circle class="d" cx="311.4" cy="210.2" r="2.5" fill="#9e2783"/><circle class="e" cx="311.4" cy="210.2" r="1.8" stroke="#9e2783"/><circle class="d" cx="312.8" cy="202.3" r="2.5" fill="#9c2684"/><circle class="e" cx="312.8" cy="202.3" r="1.8" stroke="#9c2684"/><circle class="d" cx="316.4" cy="206.1" r="2.5" fill="#952485"/><circle class="e" cx="316.4" cy="206.1" r="1.8" stroke="#952485"/><circle class="d" cx="317.7" cy="196.2" r="2.5" fill="#942485"/><circle class="e" cx="317.7" cy="196.2" r="1.8" stroke="#942485"/><circle class="d" cx="318.5" cy="208.2" r="2.5" fill="#922485"/><circle class="e" cx="318.5" cy="208.2" r="1.8" stroke="#922485"/><circle class="d" cx="320.6" cy="210.7" r="2.5" fill="#8f2386"/><circle class="e" cx="320.6" cy="210.7" r="1.8" stroke="#8f2386"/><circle class="d" cx="322.3" cy="205.1" r="2.5" fill="#8d2286"/><circle class="e" cx="322.3" cy="205.1" r="1.8" stroke="#8d2286"/><circle class="d" cx="282.5" cy="209.5" r="2.5" fill="#ca3374"/><circle class="e" cx="282.5" cy="209.5" r="1.8" stroke="#ca3374"/><circle class="d" cx="300.5" cy="201.5" r="2.5" fill="#af2b7f"/><circle class="e" cx="300.5" cy="201.5" r="1.8" stroke="#af2b7f"/><circle class="d" cx="303.0" cy="205.0" r="2.5" fill="#aa2a80"/><circle class="e" cx="303.0" cy="205.0" r="1.8" stroke="#aa2a80"/><circle class="d" cx="296.0" cy="207.0" r="2.5" fill="#b52d7d"/><circle class="e" cx="296.0" cy="207.0" r="1.8" stroke="#b52d7d"/><circle class="d" cx="274.5" cy="205.0" r="2.5" fill="#d5386f"/><circle class="e" cx="274.5" cy="205.0" r="1.8" stroke="#d5386f"/><circle class="d" cx="309.5" cy="203.0" r="2.5" fill="#a12882"/><circle class="e" cx="309.5" cy="203.0" r="1.8" stroke="#a12882"/><circle class="d" cx="285.0" cy="196.8" r="2.5" fill="#c63276"/><circle class="e" cx="285.0" cy="196.8" r="1.8" stroke="#c63276"/><circle class="d" cx="296.2" cy="259.5" r="2.5" fill="#b52d7d"/><circle class="e" cx="296.2" cy="259.5" r="1.8" stroke="#b52d7d"/><circle class="d" cx="289.3" cy="248.4" r="2.5" fill="#c03079"/><circle class="e" cx="289.3" cy="248.4" r="1.8" stroke="#c03079"/><circle class="d" cx="290.6" cy="257.0" r="2.5" fill="#be307a"/><circle class="e" cx="290.6" cy="257.0" r="1.8" stroke="#be307a"/><circle class="d" cx="289.4" cy="253.9" r="2.5" fill="#c03079"/><circle class="e" cx="289.4" cy="253.9" r="1.8" stroke="#c03079"/><circle class="d" cx="286.2" cy="257.5" r="2.5" fill="#c53277"/><circle class="e" cx="286.2" cy="257.5" r="1.8" stroke="#c53277"/><circle class="d" cx="292.4" cy="258.6" r="2.5" fill="#bb2f7b"/><circle class="e" cx="292.4" cy="258.6" r="1.8" stroke="#bb2f7b"/><circle class="d" cx="298.0" cy="250.9" r="2.5" fill="#b22c7e"/><circle class="e" cx="298.0" cy="250.9" r="1.8" stroke="#b22c7e"/><circle class="d" cx="275.5" cy="260.9" r="2.5" fill="#d5386f"/><circle class="e" cx="275.5" cy="260.9" r="1.8" stroke="#d5386f"/><circle class="d" cx="301.7" cy="256.5" r="2.5" fill="#ad2b7f"/><circle class="e" cx="301.7" cy="256.5" r="1.8" stroke="#ad2b7f"/><circle class="d" cx="296.0" cy="256.2" r="2.5" fill="#b52d7d"/><circle class="e" cx="296.0" cy="256.2" r="1.8" stroke="#b52d7d"/><circle class="d" cx="308.5" cy="260.6" r="2.5" fill="#a12882"/><circle class="e" cx="308.5" cy="260.6" r="1.8" stroke="#a12882"/><circle class="d" cx="293.1" cy="250.9" r="2.5" fill="#b92e7c"/><circle class="e" cx="293.1" cy="250.9" r="1.8" stroke="#b92e7c"/><circle class="d" cx="299.1" cy="255.2" r="2.5" fill="#b02c7e"/><circle class="e" cx="299.1" cy="255.2" r="1.8" stroke="#b02c7e"/><circle class="d" cx="302.5" cy="261.4" r="2.5" fill="#ab2a80"/><circle class="e" cx="302.5" cy="261.4" r="1.8" stroke="#ab2a80"/><circle class="d" cx="282.4" cy="251.2" r="2.5" fill="#ca3374"/><circle class="e" cx="282.4" cy="251.2" r="1.8" stroke="#ca3374"/><circle class="d" cx="290.1" cy="259.8" r="2.5" fill="#be307a"/><circle class="e" cx="290.1" cy="259.8" r="1.8" stroke="#be307a"/><circle class="d" cx="294.8" cy="254.0" r="2.5" fill="#b72e7c"/><circle class="e" cx="294.8" cy="254.0" r="1.8" stroke="#b72e7c"/><circle class="d" cx="279.3" cy="255.4" r="2.5" fill="#cf3572"/><circle class="e" cx="279.3" cy="255.4" r="1.8" stroke="#cf3572"/><circle class="d" cx="257.0" cy="254.5" r="2.5" fill="#ed475f"/><circle class="e" cx="257.0" cy="254.5" r="1.8" stroke="#ed475f"/><circle class="d" cx="257.5" cy="263.2" r="2.5" fill="#ed475f"/><circle class="e" cx="257.5" cy="263.2" r="1.8" stroke="#ed475f"/><circle class="d" cx="263.1" cy="253.2" r="2.5" fill="#e64264"/><circle class="e" cx="263.1" cy="253.2" r="1.8" stroke="#e64264"/><circle class="d" cx="264.0" cy="256.6" r="2.5" fill="#e54065"/><circle class="e" cx="264.0" cy="256.6" r="1.8" stroke="#e54065"/><circle class="d" cx="265.6" cy="247.8" r="2.5" fill="#e33f66"/><circle class="e" cx="265.6" cy="247.8" r="1.8" stroke="#e33f66"/><circle class="d" cx="267.7" cy="257.0" r="2.5" fill="#e03e68"/><circle class="e" cx="267.7" cy="257.0" r="1.8" stroke="#e03e68"/><circle class="d" cx="266.5" cy="259.1" r="2.5" fill="#e23f67"/><circle class="e" cx="266.5" cy="259.1" r="1.8" stroke="#e23f67"/><circle class="d" cx="271.5" cy="259.9" r="2.5" fill="#da3a6c"/><circle class="e" cx="271.5" cy="259.9" r="1.8" stroke="#da3a6c"/><circle class="d" cx="271.9" cy="252.4" r="2.5" fill="#da3a6c"/><circle class="e" cx="271.9" cy="252.4" r="1.8" stroke="#da3a6c"/><circle class="d" cx="272.3" cy="263.2" r="2.5" fill="#d9396d"/><circle class="e" cx="272.3" cy="263.2" r="1.8" stroke="#d9396d"/><circle class="d" cx="275.3" cy="248.2" r="2.5" fill="#d5386f"/><circle class="e" cx="275.3" cy="248.2" r="1.8" stroke="#d5386f"/><circle class="d" cx="275.7" cy="259.1" r="2.5" fill="#d4376f"/><circle class="e" cx="275.7" cy="259.1" r="1.8" stroke="#d4376f"/><circle class="d" cx="276.1" cy="254.1" r="2.5" fill="#d4376f"/><circle class="e" cx="276.1" cy="254.1" r="1.8" stroke="#d4376f"/><circle class="d" cx="279.0" cy="263.7" r="2.5" fill="#cf3572"/><circle class="e" cx="279.0" cy="263.7" r="1.8" stroke="#cf3572"/><circle class="d" cx="279.9" cy="251.1" r="2.5" fill="#cf3572"/><circle class="e" cx="279.9" cy="251.1" r="1.8" stroke="#cf3572"/><circle class="d" cx="281.1" cy="256.6" r="2.5" fill="#cc3474"/><circle class="e" cx="281.1" cy="256.6" r="1.8" stroke="#cc3474"/><circle class="d" cx="282.4" cy="261.6" r="2.5" fill="#ca3374"/><circle class="e" cx="282.4" cy="261.6" r="1.8" stroke="#ca3374"/><circle class="d" cx="284.9" cy="254.9" r="2.5" fill="#c63276"/><circle class="e" cx="284.9" cy="254.9" r="1.8" stroke="#c63276"/><circle class="d" cx="285.3" cy="248.6" r="2.5" fill="#c63276"/><circle class="e" cx="285.3" cy="248.6" r="1.8" stroke="#c63276"/><circle class="d" cx="285.7" cy="263.2" r="2.5" fill="#c53277"/><circle class="e" cx="285.7" cy="263.2" r="1.8" stroke="#c53277"/><circle class="d" cx="288.2" cy="259.5" r="2.5" fill="#c13178"/><circle class="e" cx="288.2" cy="259.5" r="1.8" stroke="#c13178"/><circle class="d" cx="288.6" cy="249.9" r="2.5" fill="#c13178"/><circle class="e" cx="288.6" cy="249.9" r="1.8" stroke="#c13178"/><circle class="d" cx="289.5" cy="263.7" r="2.5" fill="#c03079"/><circle class="e" cx="289.5" cy="263.7" r="1.8" stroke="#c03079"/><circle class="d" cx="290.7" cy="255.7" r="2.5" fill="#be307a"/><circle class="e" cx="290.7" cy="255.7" r="1.8" stroke="#be307a"/><circle class="d" cx="288.8" cy="249.9" r="2.5" fill="#c03079"/><circle class="e" cx="288.8" cy="249.9" r="1.8" stroke="#c03079"/><circle class="d" cx="289.3" cy="260.7" r="2.5" fill="#c03079"/><circle class="e" cx="289.3" cy="260.7" r="1.8" stroke="#c03079"/><circle class="d" cx="288.8" cy="264.0" r="2.5" fill="#c03079"/><circle class="e" cx="288.8" cy="264.0" r="1.8" stroke="#c03079"/><circle class="d" cx="293.0" cy="249.0" r="2.5" fill="#bb2f7b"/><circle class="e" cx="293.0" cy="249.0" r="1.8" stroke="#bb2f7b"/><circle class="d" cx="293.0" cy="255.7" r="2.5" fill="#bb2f7b"/><circle class="e" cx="293.0" cy="255.7" r="1.8" stroke="#bb2f7b"/><circle class="d" cx="293.9" cy="259.9" r="2.5" fill="#b92e7c"/><circle class="e" cx="293.9" cy="259.9" r="1.8" stroke="#b92e7c"/><circle class="d" cx="296.4" cy="252.4" r="2.5" fill="#b42d7d"/><circle class="e" cx="296.4" cy="252.4" r="1.8" stroke="#b42d7d"/><circle class="d" cx="297.2" cy="263.7" r="2.5" fill="#b42d7d"/><circle class="e" cx="297.2" cy="263.7" r="1.8" stroke="#b42d7d"/><circle class="d" cx="298.0" cy="249.5" r="2.5" fill="#b22c7e"/><circle class="e" cx="298.0" cy="249.5" r="1.8" stroke="#b22c7e"/><circle class="d" cx="298.5" cy="257.4" r="2.5" fill="#b22c7e"/><circle class="e" cx="298.5" cy="257.4" r="1.8" stroke="#b22c7e"/><circle class="d" cx="300.5" cy="254.1" r="2.5" fill="#af2b7f"/><circle class="e" cx="300.5" cy="254.1" r="1.8" stroke="#af2b7f"/><circle class="d" cx="302.2" cy="263.2" r="2.5" fill="#ab2a80"/><circle class="e" cx="302.2" cy="263.2" r="1.8" stroke="#ab2a80"/><circle class="d" cx="303.5" cy="259.1" r="2.5" fill="#aa2a80"/><circle class="e" cx="303.5" cy="259.1" r="1.8" stroke="#aa2a80"/><circle class="d" cx="304.3" cy="250.7" r="2.5" fill="#a82a81"/><circle class="e" cx="304.3" cy="250.7" r="1.8" stroke="#a82a81"/><circle class="d" cx="308.1" cy="251.5" r="2.5" fill="#a32882"/><circle class="e" cx="308.1" cy="251.5" r="1.8" stroke="#a32882"/><circle class="d" cx="310.2" cy="254.5" r="2.5" fill="#9f2783"/><circle class="e" cx="310.2" cy="254.5" r="1.8" stroke="#9f2783"/><circle class="d" cx="310.4" cy="247.8" r="2.5" fill="#9f2783"/><circle class="e" cx="310.4" cy="247.8" r="1.8" stroke="#9f2783"/><circle class="d" cx="310.7" cy="262.8" r="2.5" fill="#9e2783"/><circle class="e" cx="310.7" cy="262.8" r="1.8" stroke="#9e2783"/><circle class="d" cx="311.4" cy="256.6" r="2.5" fill="#9e2783"/><circle class="e" cx="311.4" cy="256.6" r="1.8" stroke="#9e2783"/><circle class="d" cx="315.2" cy="257.0" r="2.5" fill="#972584"/><circle class="e" cx="315.2" cy="257.0" r="1.8" stroke="#972584"/><circle class="d" cx="316.0" cy="259.5" r="2.5" fill="#972584"/><circle class="e" cx="316.0" cy="259.5" r="1.8" stroke="#972584"/><circle class="d" cx="318.1" cy="262.8" r="2.5" fill="#942485"/><circle class="e" cx="318.1" cy="262.8" r="1.8" stroke="#942485"/><circle class="d" cx="319.8" cy="260.3" r="2.5" fill="#902386"/><circle class="e" cx="319.8" cy="260.3" r="1.8" stroke="#902386"/><circle class="d" cx="322.4" cy="252.2" r="2.5" fill="#8d2286"/><circle class="e" cx="322.4" cy="252.2" r="1.8" stroke="#8d2286"/><circle class="d" cx="323.8" cy="262.8" r="2.5" fill="#8b2286"/><circle class="e" cx="323.8" cy="262.8" r="1.8" stroke="#8b2286"/><circle class="d" cx="295.0" cy="257.0" r="2.5" fill="#b72e7c"/><circle class="e" cx="295.0" cy="257.0" r="1.8" stroke="#b72e7c"/><circle class="d" cx="298.0" cy="261.0" r="2.5" fill="#b22c7e"/><circle class="e" cx="298.0" cy="261.0" r="1.8" stroke="#b22c7e"/><circle class="d" cx="300.5" cy="251.5" r="2.5" fill="#af2b7f"/><circle class="e" cx="300.5" cy="251.5" r="1.8" stroke="#af2b7f"/><circle class="d" cx="304.5" cy="256.5" r="2.5" fill="#a82a81"/><circle class="e" cx="304.5" cy="256.5" r="1.8" stroke="#a82a81"/><circle class="d" cx="306.5" cy="261.5" r="2.5" fill="#a42982"/><circle class="e" cx="306.5" cy="261.5" r="1.8" stroke="#a42982"/><circle class="d" cx="293.5" cy="262.5" r="2.5" fill="#b92e7c"/><circle class="e" cx="293.5" cy="262.5" r="1.8" stroke="#b92e7c"/><circle class="d" cx="285.0" cy="258.5" r="2.5" fill="#c63276"/><circle class="e" cx="285.0" cy="258.5" r="1.8" stroke="#c63276"/><circle class="d" cx="287.0" cy="252.0" r="2.5" fill="#c33177"/><circle class="e" cx="287.0" cy="252.0" r="1.8" stroke="#c33177"/><circle class="d" cx="307.0" cy="254.0" r="2.5" fill="#a42982"/><circle class="e" cx="307.0" cy="254.0" r="1.8" stroke="#a42982"/><circle class="d" cx="287.1" cy="307.1" r="2.5" fill="#c33177"/><circle class="e" cx="287.1" cy="307.1" r="1.8" stroke="#c33177"/><circle class="d" cx="287.0" cy="309.5" r="2.5" fill="#c33177"/><circle class="e" cx="287.0" cy="309.5" r="1.8" stroke="#c33177"/><circle class="d" cx="282.8" cy="308.1" r="2.5" fill="#ca3374"/><circle class="e" cx="282.8" cy="308.1" r="1.8" stroke="#ca3374"/><circle class="d" cx="283.8" cy="305.8" r="2.5" fill="#c83375"/><circle class="e" cx="283.8" cy="305.8" r="1.8" stroke="#c83375"/><circle class="d" cx="283.8" cy="310.7" r="2.5" fill="#c83375"/><circle class="e" cx="283.8" cy="310.7" r="1.8" stroke="#c83375"/><circle class="d" cx="286.4" cy="306.1" r="2.5" fill="#c53277"/><circle class="e" cx="286.4" cy="306.1" r="1.8" stroke="#c53277"/><circle class="d" cx="287.4" cy="310.7" r="2.5" fill="#c33177"/><circle class="e" cx="287.4" cy="310.7" r="1.8" stroke="#c33177"/><circle class="d" cx="289.1" cy="307.8" r="2.5" fill="#c03079"/><circle class="e" cx="289.1" cy="307.8" r="1.8" stroke="#c03079"/><circle class="d" cx="291.0" cy="304.8" r="2.5" fill="#bc2f7a"/><circle class="e" cx="291.0" cy="304.8" r="1.8" stroke="#bc2f7a"/><circle class="d" cx="292.0" cy="310.7" r="2.5" fill="#bb2f7b"/><circle class="e" cx="292.0" cy="310.7" r="1.8" stroke="#bb2f7b"/><circle class="d" cx="293.0" cy="307.4" r="2.5" fill="#bb2f7b"/><circle class="e" cx="293.0" cy="307.4" r="1.8" stroke="#bb2f7b"/><circle class="d" cx="296.6" cy="308.1" r="2.5" fill="#b42d7d"/><circle class="e" cx="296.6" cy="308.1" r="1.8" stroke="#b42d7d"/><circle class="d" cx="297.9" cy="306.1" r="2.5" fill="#b22c7e"/><circle class="e" cx="297.9" cy="306.1" r="1.8" stroke="#b22c7e"/><circle class="d" cx="285.0" cy="308.5" r="2.5" fill="#c63276"/><circle class="e" cx="285.0" cy="308.5" r="1.8" stroke="#c63276"/><circle class="d" cx="288.3" cy="305.0" r="2.5" fill="#c13178"/><circle class="e" cx="288.3" cy="305.0" r="1.8" stroke="#c13178"/><circle class="d" cx="290.2" cy="310.0" r="2.5" fill="#be307a"/><circle class="e" cx="290.2" cy="310.0" r="1.8" stroke="#be307a"/><circle class="d" cx="294.8" cy="309.8" r="2.5" fill="#b72e7c"/><circle class="e" cx="294.8" cy="309.8" r="1.8" stroke="#b72e7c"/><circle class="d" cx="295.0" cy="305.5" r="2.5" fill="#b72e7c"/><circle class="e" cx="295.0" cy="305.5" r="1.8" stroke="#b72e7c"/><circle class="d" cx="293.6" cy="358.7" r="2.5" fill="#b92e7c"/><circle class="e" cx="293.6" cy="358.7" r="1.8" stroke="#b92e7c"/><circle class="d" cx="294.8" cy="360.9" r="2.5" fill="#b72e7c"/><circle class="e" cx="294.8" cy="360.9" r="1.8" stroke="#b72e7c"/><circle class="d" cx="279.9" cy="360.1" r="2.5" fill="#cf3572"/><circle class="e" cx="279.9" cy="360.1" r="1.8" stroke="#cf3572"/><circle class="d" cx="282.5" cy="359.4" r="2.5" fill="#ca3374"/><circle class="e" cx="282.5" cy="359.4" r="1.8" stroke="#ca3374"/><circle class="d" cx="284.8" cy="357.5" r="2.5" fill="#c63276"/><circle class="e" cx="284.8" cy="357.5" r="1.8" stroke="#c63276"/><circle class="d" cx="285.1" cy="360.7" r="2.5" fill="#c63276"/><circle class="e" cx="285.1" cy="360.7" r="1.8" stroke="#c63276"/><circle class="d" cx="286.7" cy="363.0" r="2.5" fill="#c33177"/><circle class="e" cx="286.7" cy="363.0" r="1.8" stroke="#c33177"/><circle class="d" cx="287.7" cy="357.8" r="2.5" fill="#c13178"/><circle class="e" cx="287.7" cy="357.8" r="1.8" stroke="#c13178"/><circle class="d" cx="288.4" cy="360.7" r="2.5" fill="#c13178"/><circle class="e" cx="288.4" cy="360.7" r="1.8" stroke="#c13178"/><circle class="d" cx="289.7" cy="358.8" r="2.5" fill="#c03079"/><circle class="e" cx="289.7" cy="358.8" r="1.8" stroke="#c03079"/><circle class="d" cx="292.3" cy="358.8" r="2.5" fill="#bb2f7b"/><circle class="e" cx="292.3" cy="358.8" r="1.8" stroke="#bb2f7b"/><circle class="d" cx="292.9" cy="362.7" r="2.5" fill="#bb2f7b"/><circle class="e" cx="292.9" cy="362.7" r="1.8" stroke="#bb2f7b"/><circle class="d" cx="293.6" cy="360.1" r="2.5" fill="#b92e7c"/><circle class="e" cx="293.6" cy="360.1" r="1.8" stroke="#b92e7c"/><circle class="d" cx="296.2" cy="361.1" r="2.5" fill="#b52d7d"/><circle class="e" cx="296.2" cy="361.1" r="1.8" stroke="#b52d7d"/><circle class="d" cx="297.2" cy="358.8" r="2.5" fill="#b42d7d"/><circle class="e" cx="297.2" cy="358.8" r="1.8" stroke="#b42d7d"/><circle class="d" cx="298.8" cy="357.1" r="2.5" fill="#b02c7e"/><circle class="e" cx="298.8" cy="357.1" r="1.8" stroke="#b02c7e"/><circle class="d" cx="300.1" cy="359.4" r="2.5" fill="#af2b7f"/><circle class="e" cx="300.1" cy="359.4" r="1.8" stroke="#af2b7f"/><circle class="d" cx="300.8" cy="362.4" r="2.5" fill="#ad2b7f"/><circle class="e" cx="300.8" cy="362.4" r="1.8" stroke="#ad2b7f"/><circle class="d" cx="301.1" cy="360.7" r="2.5" fill="#ad2b7f"/><circle class="e" cx="301.1" cy="360.7" r="1.8" stroke="#ad2b7f"/><circle class="d" cx="283.5" cy="361.5" r="2.5" fill="#c83375"/><circle class="e" cx="283.5" cy="361.5" r="1.8" stroke="#c83375"/><circle class="d" cx="290.8" cy="361.8" r="2.5" fill="#be307a"/><circle class="e" cx="290.8" cy="361.8" r="1.8" stroke="#be307a"/><circle class="d" cx="295.0" cy="358.0" r="2.5" fill="#b72e7c"/><circle class="e" cx="295.0" cy="358.0" r="1.8" stroke="#b72e7c"/><circle class="d" cx="298.0" cy="362.0" r="2.5" fill="#b22c7e"/><circle class="e" cx="298.0" cy="362.0" r="1.8" stroke="#b22c7e"/></g>
<line x1="290.9" y1="22.9" x2="290.9" y2="379.45" stroke="#808080" stroke-width="0.98" stroke-dasharray="4 1.7"/>
<rect x="122.5" y="22.9" width="337.50" height="356.55" fill="none" stroke="#1a1a1a" stroke-width="0.95"/>
<line x1="150.40" y1="379.45" x2="150.40" y2="383.34999999999997" stroke="#1a1a1a" stroke-width="0.95"/>
<text transform="translate(150.20 395.5) scale(0.985 1)" font-size="10.5" text-anchor="middle">−1.0</text>
<line x1="220.65" y1="379.45" x2="220.65" y2="383.34999999999997" stroke="#1a1a1a" stroke-width="0.95"/>
<text transform="translate(220.45 395.5) scale(0.985 1)" font-size="10.5" text-anchor="middle">−0.5</text>
<line x1="290.90" y1="379.45" x2="290.90" y2="383.34999999999997" stroke="#1a1a1a" stroke-width="0.95"/>
<text transform="translate(290.70 395.5) scale(0.985 1)" font-size="10.5" text-anchor="middle">0.0</text>
<line x1="361.15" y1="379.45" x2="361.15" y2="383.34999999999997" stroke="#1a1a1a" stroke-width="0.95"/>
<text transform="translate(360.95 395.5) scale(0.985 1)" font-size="10.5" text-anchor="middle">0.5</text>
<line x1="431.40" y1="379.45" x2="431.40" y2="383.34999999999997" stroke="#1a1a1a" stroke-width="0.95"/>
<text transform="translate(431.20 395.5) scale(0.985 1)" font-size="10.5" text-anchor="middle">1.0</text>
<line x1="118.6" y1="46.96" x2="122.5" y2="46.96" stroke="#1a1a1a" stroke-width="0.95"/>
<text x="113.3" y="50.86" font-size="10.65" text-anchor="end">temperature_step_4</text>
<line x1="118.6" y1="99.33" x2="122.5" y2="99.33" stroke="#1a1a1a" stroke-width="0.95"/>
<text x="113.3" y="103.23" font-size="10.65" text-anchor="end">temperature_step_5</text>
<line x1="118.6" y1="151.70" x2="122.5" y2="151.70" stroke="#1a1a1a" stroke-width="0.95"/>
<text x="113.3" y="155.60" font-size="10.65" text-anchor="end">temperature_step_2</text>
<line x1="118.6" y1="204.07" x2="122.5" y2="204.07" stroke="#1a1a1a" stroke-width="0.95"/>
<text x="113.3" y="207.97" font-size="10.65" text-anchor="end">dayofyear_step_2</text>
<line x1="118.6" y1="256.44" x2="122.5" y2="256.44" stroke="#1a1a1a" stroke-width="0.95"/>
<text x="113.3" y="260.34" font-size="10.65" text-anchor="end">temperature_step_3</text>
<line x1="118.6" y1="308.81" x2="122.5" y2="308.81" stroke="#1a1a1a" stroke-width="0.95"/>
<text x="113.3" y="312.71" font-size="10.65" text-anchor="end">dayofyear_step_1</text>
<line x1="118.6" y1="361.18" x2="122.5" y2="361.18" stroke="#1a1a1a" stroke-width="0.95"/>
<text x="113.3" y="365.08" font-size="10.65" text-anchor="end">dayofyear_step_5</text>
<text x="290.55" y="410.4" font-size="10.73" text-anchor="middle">SHAP value (impact on model output)</text>
<text x="291.25" y="16.4" font-size="12.85" text-anchor="middle">XGBoost SHAP Beeswarm</text>
<rect x="474.7" y="22.9" width="17.75" height="356.55" fill="url(#cb)" stroke="#1a1a1a" stroke-width="0.95"/>
<line x1="492.45" y1="22.90" x2="496.34999999999997" y2="22.90" stroke="#1a1a1a" stroke-width="0.95"/>
<text transform="translate(500.2 27.00) scale(0.945 1)" font-size="10.6">1.00</text>
<line x1="492.45" y1="67.47" x2="496.34999999999997" y2="67.47" stroke="#1a1a1a" stroke-width="0.95"/>
<text transform="translate(500.2 71.57) scale(0.945 1)" font-size="10.6">0.75</text>
<line x1="492.45" y1="112.04" x2="496.34999999999997" y2="112.04" stroke="#1a1a1a" stroke-width="0.95"/>
<text transform="translate(500.2 116.14) scale(0.945 1)" font-size="10.6">0.50</text>
<line x1="492.45" y1="156.61" x2="496.34999999999997" y2="156.61" stroke="#1a1a1a" stroke-width="0.95"/>
<text transform="translate(500.2 160.71) scale(0.945 1)" font-size="10.6">0.25</text>
<line x1="492.45" y1="201.18" x2="496.34999999999997" y2="201.18" stroke="#1a1a1a" stroke-width="0.95"/>
<text transform="translate(500.2 205.28) scale(0.945 1)" font-size="10.6">0.00</text>
<line x1="492.45" y1="245.74" x2="496.34999999999997" y2="245.74" stroke="#1a1a1a" stroke-width="0.95"/>
<text transform="translate(500.2 249.84) scale(0.945 1)" font-size="10.6">−0.25</text>
<line x1="492.45" y1="290.31" x2="496.34999999999997" y2="290.31" stroke="#1a1a1a" stroke-width="0.95"/>
<text transform="translate(500.2 294.41) scale(0.945 1)" font-size="10.6">−0.50</text>
<line x1="492.45" y1="334.88" x2="496.34999999999997" y2="334.88" stroke="#1a1a1a" stroke-width="0.95"/>
<text transform="translate(500.2 338.98) scale(0.945 1)" font-size="10.6">−0.75</text>
<line x1="492.45" y1="379.45" x2="496.34999999999997" y2="379.45" stroke="#1a1a1a" stroke-width="0.95"/>
<text transform="translate(500.2 383.55) scale(0.945 1)" font-size="10.6">−1.00</text>
<text transform="translate(544.2 202.07) rotate(-90)" font-size="10.7" text-anchor="middle">SHAP value</text>
</svg>
</body></html>
